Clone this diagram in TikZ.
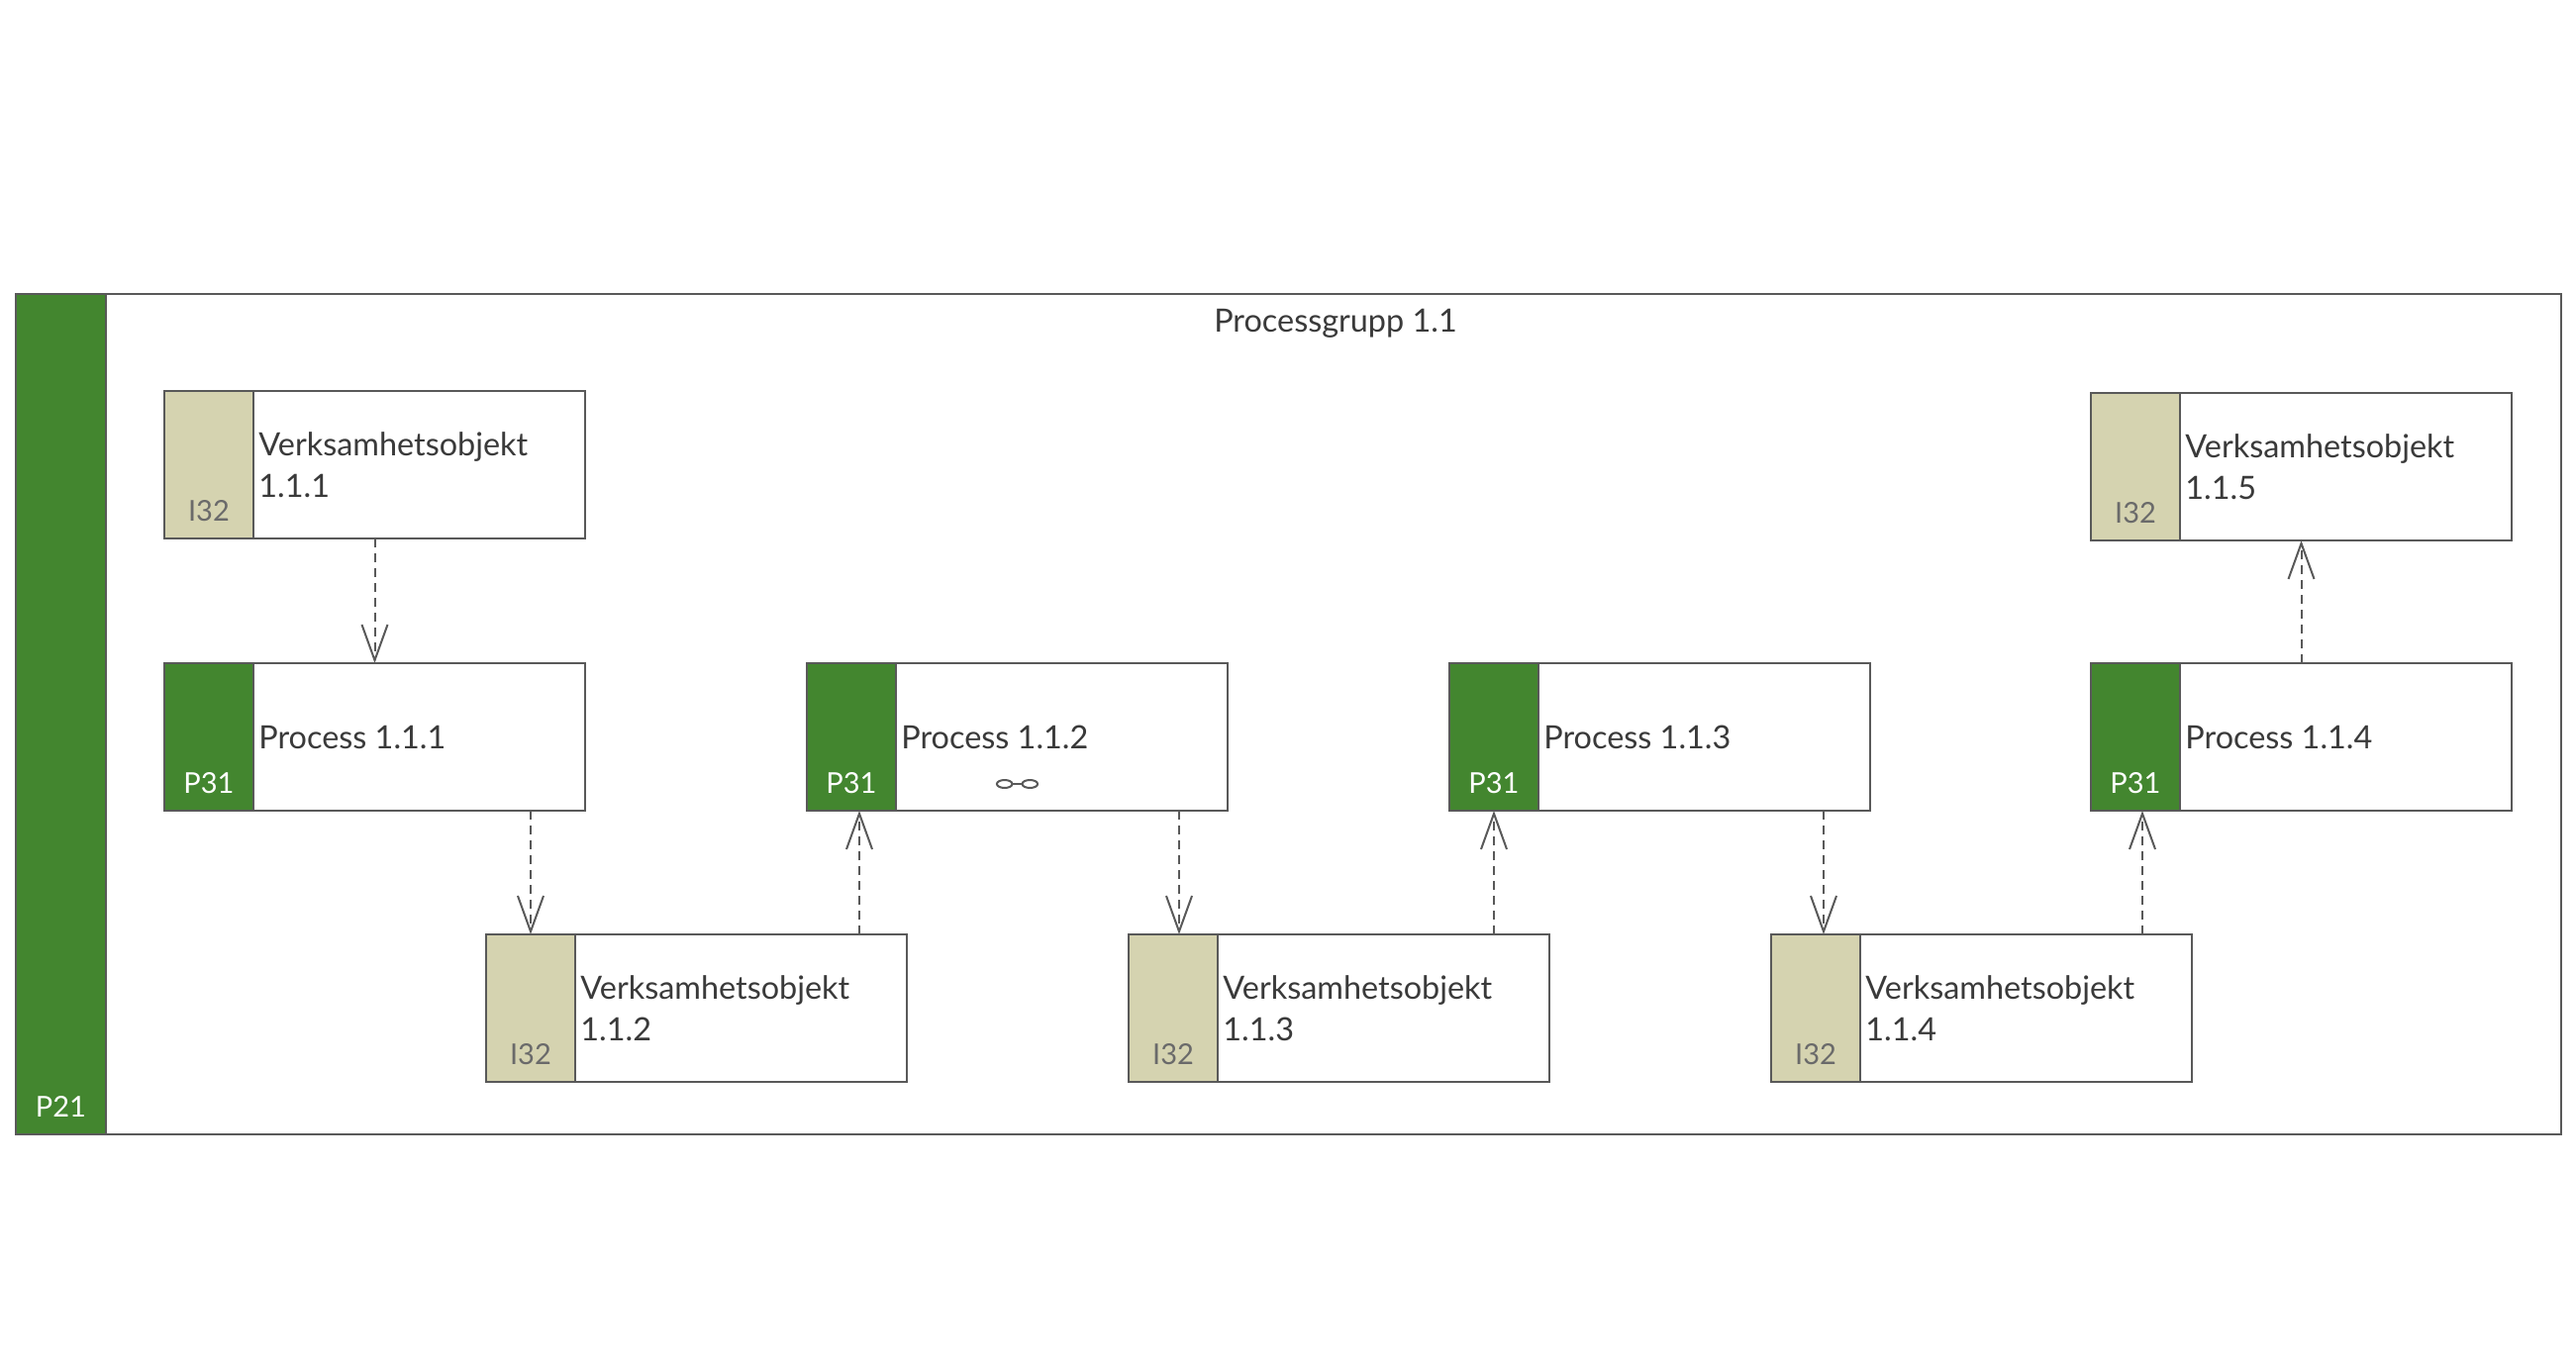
\documentclass[tikz,border=0pt]{standalone}
\usepackage{fontspec}
\setmainfont{Lato}
\usetikzlibrary{arrows.meta}
\definecolor{pgreen}{HTML}{43862F}
\definecolor{itan}{HTML}{D5D3B0}
\definecolor{linec}{HTML}{595959}
\definecolor{txt}{HTML}{3A3A3A}
\definecolor{tagg}{HTML}{6A6A6A}
\tikzset{
  boxbase/.style={draw=linec, line width=1.2pt, fill=white, rectangle, minimum width=212.5pt, minimum height=74.5pt, inner sep=0pt, outer sep=0pt},
  stripebase/.style={draw=linec, line width=1.2pt, rectangle, minimum width=45pt, minimum height=74.5pt, inner sep=0pt, outer sep=0pt},
  labeltext/.style={text=txt, font=\fontsize{16.2}{21}\selectfont, align=left, inner sep=0pt},
  tagtext/.style={font=\fontsize{14.5}{16}\selectfont, inner sep=0pt},
  dep/.style={draw=linec, line width=1pt, dash pattern=on 4.5pt off 3pt, -{Straight Barb[length=18pt,width=13pt,line width=1pt]}}
}
\newcommand\mybox[7]{%
  \node[boxbase, anchor=north west] (#1) at (#2,#3) {};
  \node[stripebase, fill=#4, anchor=north west] (#1s) at (#1.north west) {};
  \node[tagtext, text=#5] (#1t) at ([yshift=14pt]#1s.south) {#6};
  \node[labeltext, anchor=west] (#1l) at ([xshift=2.5pt]#1s.east) {#7};
}
\begin{document}
\begin{tikzpicture}[x=0.5pt,y=-0.5pt]
\useasboundingbox (0,0) rectangle (2602,1376);
\fill[white] (0,0) rectangle (2602,1376);
% group frame
\node[draw=linec, line width=1.2pt, rectangle, minimum width=1285.5pt, minimum height=424.5pt, inner sep=0pt, outer sep=0pt, anchor=north west] (grp) at (16,297) {};
\node[draw=linec, fill=pgreen, line width=1.2pt, rectangle, minimum width=45.5pt, minimum height=424.5pt, inner sep=0pt, outer sep=0pt, anchor=north west] (grps) at (grp.north west) {};
\node[tagtext, text=white] (grpt) at ([yshift=14pt]grps.south) {P21};
\node[labeltext] (title) at (1349,327) {Processgrupp 1.1};
% boxes
\mybox{v1}{166}{395}{itan}{tagg}{I32}{Verksamhetsobjekt\\1.1.1}
\mybox{p1}{166}{670}{pgreen}{white}{P31}{Process 1.1.1}
\mybox{p2}{815}{670}{pgreen}{white}{P31}{Process 1.1.2}
\mybox{p3}{1464}{670}{pgreen}{white}{P31}{Process 1.1.3}
\mybox{p4}{2112}{670}{pgreen}{white}{P31}{Process 1.1.4}
\mybox{v5}{2112}{397}{itan}{tagg}{I32}{Verksamhetsobjekt\\1.1.5}
\mybox{v2}{491}{944}{itan}{tagg}{I32}{Verksamhetsobjekt\\1.1.2}
\mybox{v3}{1140}{944}{itan}{tagg}{I32}{Verksamhetsobjekt\\1.1.3}
\mybox{v4}{1789}{944}{itan}{tagg}{I32}{Verksamhetsobjekt\\1.1.4}
% link glyph
\coordinate (lk) at ([yshift=13.5pt]p2.south);
\draw[linec, line width=1pt] ([xshift=-6.4pt]lk) ellipse (3.9pt and 2pt);
\draw[linec, line width=1pt] ([xshift=6.4pt]lk) ellipse (3.9pt and 2pt);
\draw[linec, line width=1pt] ([xshift=-2.5pt]lk) -- ([xshift=2.5pt]lk);
% connectors
\draw[dep] (v1.south) -- (p1.north);
\draw[dep] (p1.south -| v2s.north) -- (v2s.north);
\draw[dep] ([xshift=4pt]v2.north -| p2s.south) -- ([xshift=4pt]p2s.south);
\draw[dep] ([xshift=3pt]p2.south -| v3s.north) -- ([xshift=3pt]v3s.north);
\draw[dep] (v3.north -| p3s.south) -- (p3s.south);
\draw[dep] ([xshift=4pt]p3.south -| v4s.north) -- ([xshift=4pt]v4s.north);
\draw[dep] ([xshift=3.5pt]v4.north -| p4s.south) -- ([xshift=3.5pt]p4s.south);
\draw[dep] (p4.north) -- (v5.south);
\end{tikzpicture}
\end{document}
